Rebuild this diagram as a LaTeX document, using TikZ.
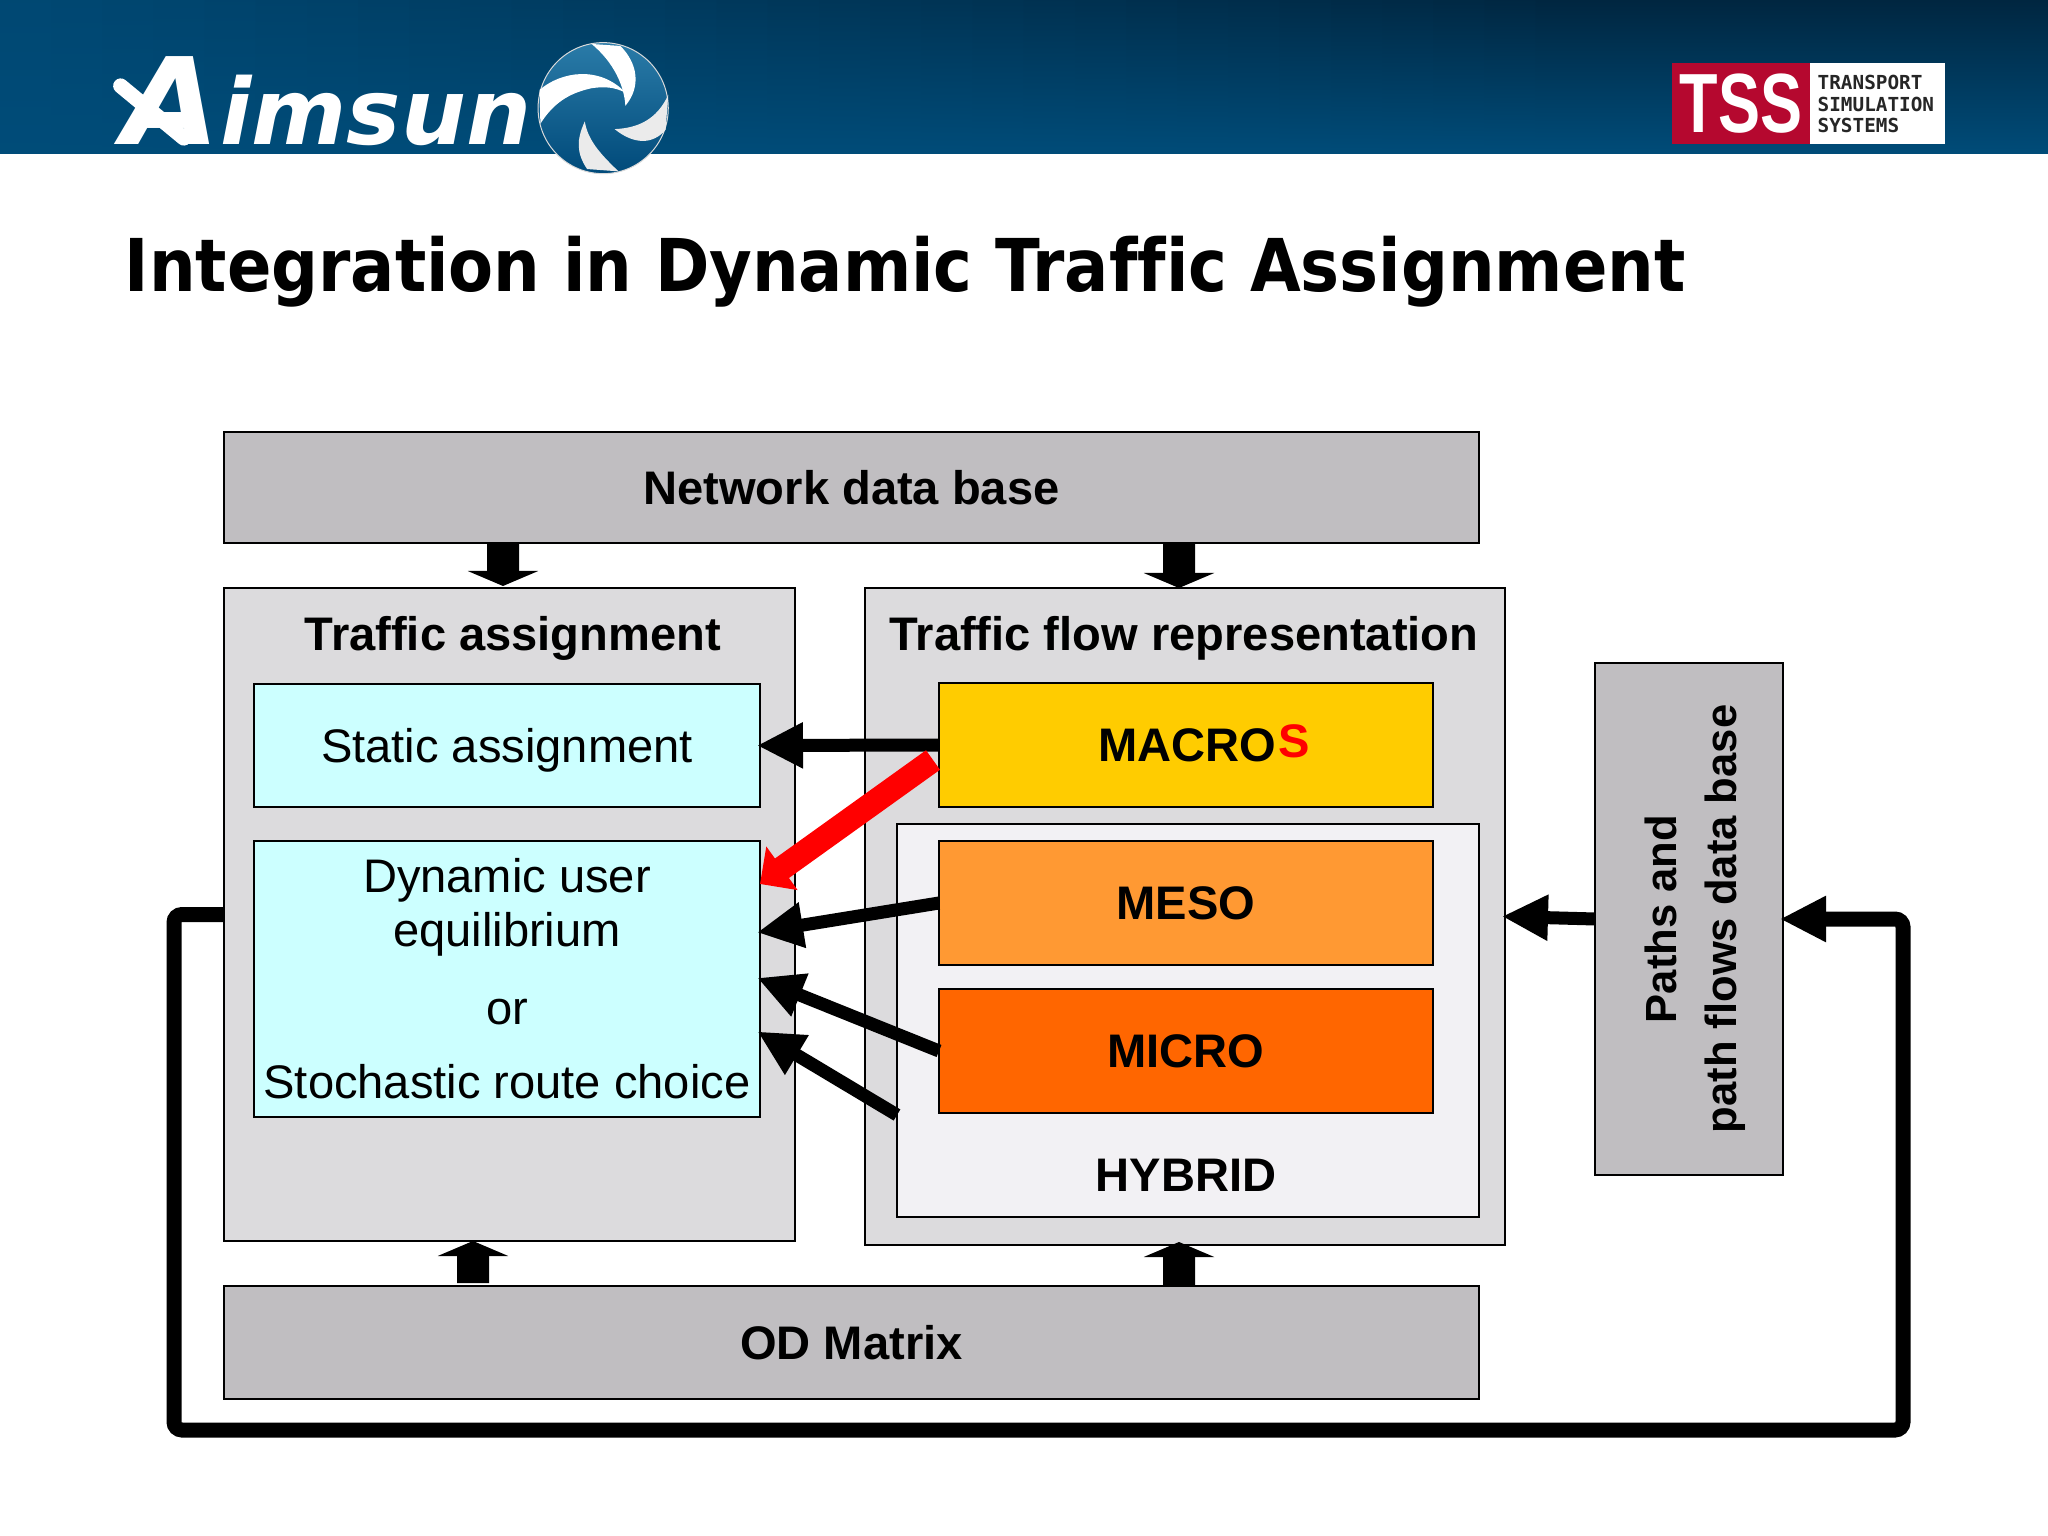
\documentclass[tikz,border=0pt]{standalone}
\usepackage{fontspec}
\setmainfont{Liberation Sans}
\newfontfamily\titlefont[Ligatures=NoCommon]{DejaVu Sans Condensed}
\newfontfamily\logofont{DejaVu Sans}
\newfontfamily\tssfont{DejaVu Sans Mono}
\usetikzlibrary{arrows.meta}

\definecolor{headdark}{HTML}{002640}
\definecolor{headlight}{HTML}{00507F}
\definecolor{orbtop}{HTML}{2A7BA8}
\definecolor{orbbottom}{HTML}{004A7A}
\definecolor{dbgray}{HTML}{C0BEC1}
\definecolor{panelgray}{HTML}{DCDBDD}
\definecolor{assigncyan}{HTML}{CCFFFF}
\definecolor{macroyellow}{HTML}{FFCC00}
\definecolor{mesoorange}{HTML}{FF9933}
\definecolor{microorange}{HTML}{FF6600}
\definecolor{hybridgray}{HTML}{F2F1F4}
\definecolor{tssred}{HTML}{B5082F}

\tikzset{
  box/.style={draw=black, line width=.016cm, inner sep=0pt, outer sep=0pt, align=center, font=\fontsize{13.4}{15.2}\selectfont},
  boldbox/.style={box, font=\fontsize{13.4}{15.2}\selectfont\bfseries},
  boldtext/.style={font=\fontsize{13.4}{15.2}\selectfont\bfseries, inner sep=0pt, align=center},
  blockarrow/.style={line width=.32cm, -{Triangle[length=.15cm,width=.7cm]}},
  thickarrow/.style={line width=.13cm, shorten >=-.03cm, -{Triangle[length=.46cm,width=.43cm]}},
  redarrow/.style={line width=.24cm, red, -{Triangle[length=.27cm,width=.52cm]}},
  loopline/.style={line width=.15cm, rounded corners=.08cm, shorten >=-.03cm, -{Triangle[length=.46cm,width=.43cm]}},
}

\begin{document}
\begin{tikzpicture}[x=1cm,y=-1cm]
  \useasboundingbox (0,0) rectangle (20.48,15.36);

  % header band and logos
  \foreach \i in {0,...,40} {
    \pgfmathsetmacro\mix{int(20+80*min(1,\i/30))}
    \shade[top color=headdark!\mix!headlight, bottom color=headlight!90!headdark] (\i*.512,0) rectangle (\i*.512+.53,1.54);
  }
  \node[anchor=base west, inner sep=0pt, text=white] (aimsun) at (1.22,1.45)
    {\logofont\fontsize{26}{26}\selectfont\bfseries\itshape \scalebox{1.38}[1.32]{A}imsun};
  \begin{scope}[shift={(.9,.3)},x=.003827cm,y=-.003333cm]
    \draw[white, line width=.15cm, line cap=round] (80,168) -- (245,325);
    \shade[top color=orbtop, bottom color=orbbottom, draw=white!85!black, line width=.01cm] (1340,235) ellipse [x radius=170, y radius=197];
    \fill[white] (1310,42) .. controls (1370,100) and (1395,170) .. (1398,228)
      .. controls (1440,170) and (1430,100) .. (1385,48) -- cycle;
    \fill[white] (1174,180) .. controls (1230,125) and (1330,105) .. (1400,190)
      .. controls (1370,170) and (1340,170) .. (1310,175)
      .. controls (1250,190) and (1210,220) .. (1176,282) -- cycle;
    \fill[white!92!black] (1510,195) .. controls (1480,270) and (1430,295) .. (1370,298)
      .. controls (1420,345) and (1470,345) .. (1503,300) -- cycle;
    \fill[white!92!black] (1292,275) .. controls (1270,330) and (1270,370) .. (1298,418)
      -- (1380,425) .. controls (1330,370) and (1300,330) .. (1292,275) -- cycle;
  \end{scope}
  \fill[tssred] (16.72,.63) rectangle (18.10,1.44);
  \fill[white] (18.10,.63) rectangle (19.45,1.44);
  \node[text=white, inner sep=0pt, xscale=.75, font=\fontsize{23.9}{24}\selectfont\bfseries] (tss) at (17.41,1.04) {TSS};
  \node[anchor=west, inner sep=0pt, align=left, text=black!85, font=\tssfont\fontsize{5.5}{6.2}\selectfont\bfseries] (tsstext) at (18.17,1.04) {TRANSPORT\\SIMULATION\\SYSTEMS};

  \node[anchor=base west, inner sep=0pt, font=\titlefont\fontsize{20.73}{24}\selectfont\bfseries] (title) at (1.24,2.92) {Integration in Dynamic Traffic Assignment};

  % outer boxes
  \node[boldbox, fill=dbgray, minimum width=12.55cm, minimum height=1.11cm] (netdb) at (8.515,4.875) {Network data base};
  \node[box, fill=panelgray, minimum width=5.71cm, minimum height=6.53cm] (assign) at (5.095,9.145) {};
  \node[box, fill=panelgray, minimum width=6.40cm, minimum height=6.57cm] (flow) at (11.85,9.165) {};
  \node[boldbox, fill=dbgray, minimum width=12.55cm, minimum height=1.13cm] (odmatrix) at (8.515,13.425) {OD Matrix};
  \node[box, fill=dbgray, minimum width=1.88cm, minimum height=5.12cm] (paths) at (16.89,9.19) {};
  \node[boldtext, rotate=90, font=\fontsize{12.4}{15.2}\selectfont\bfseries] (pathstext) at ([xshift=.06cm]paths) {Paths and\\[2pt]path flows data base};

  % traffic assignment
  \node[boldtext] (assigntitle) at (5.13,6.38) {Traffic assignment};
  \node[box, fill=assigncyan, minimum width=5.06cm, minimum height=1.23cm, text depth=0pt] (static) at (5.07,7.455) {Static assignment};
  \node[box, fill=assigncyan, minimum width=5.06cm, minimum height=2.76cm] (dynamic) at (5.07,9.79) {Dynamic user\\equilibrium\\[7.1pt]or\\[6pt]Stochastic route choice};

  % traffic flow representation
  \node[boldtext] (flowtitle) at (11.84,6.38) {Traffic flow representation};
  \node[box, fill=hybridgray, minimum width=5.82cm, minimum height=3.93cm] (hybrid) at (11.88,10.205) {};
  \node[box, fill=macroyellow, minimum width=4.94cm, minimum height=1.24cm] (macro) at (11.86,7.45) {};
  \node[boldtext] (macrotext) at (12.04,7.435) {MACRO\kern.6pt\textcolor{red}{\raisebox{1.3pt}{S}}};
  \node[boldbox, fill=mesoorange, minimum width=4.94cm, minimum height=1.24cm] (meso) at (11.86,9.03) {MESO};
  \node[boldbox, fill=microorange, minimum width=4.94cm, minimum height=1.24cm] (micro) at (11.86,10.51) {MICRO};
  \node[boldtext] (hybridtext) at (11.86,11.75) {HYBRID};

  % block arrows
  \draw[blockarrow] ([xshift=-3.485cm]netdb.south) -- ([xshift=-.065cm,yshift=.02cm]assign.north);
  \draw[blockarrow] ([xshift=3.275cm]netdb.south) -- ([xshift=-.06cm]flow.north);
  \draw[blockarrow] ([xshift=-3.785cm,yshift=.03cm]odmatrix.north) -- ([xshift=-.365cm]assign.south);
  \draw[blockarrow] ([xshift=3.275cm]odmatrix.north) -- ([xshift=-.06cm,yshift=.03cm]flow.south);

  % arrows to the assignment
  \draw[thickarrow] (macro.west) -- (static.east);
  \draw[thickarrow] (meso.west) -- ([yshift=.47cm]dynamic.east);
  \draw[thickarrow] (micro.west) -- (dynamic.east);
  \draw[thickarrow] ([yshift=-.945cm]hybrid.west) -- ([yshift=-.54cm]dynamic.east);
  \draw[redarrow] ([xshift=-.06cm,yshift=-.15cm]macro.west) -- ([yshift=.95cm]dynamic.east);

  % feedback loop
  \coordinate (loopleft) at (1.74,14.30);
  \coordinate (loopright) at (19.03,14.30);
  \draw[thickarrow] (paths.west) -- (flow.east);
  \draw[loopline] (assign.west) -| (loopleft) -- (loopright) |- (paths.east);
\end{tikzpicture}
\end{document}
